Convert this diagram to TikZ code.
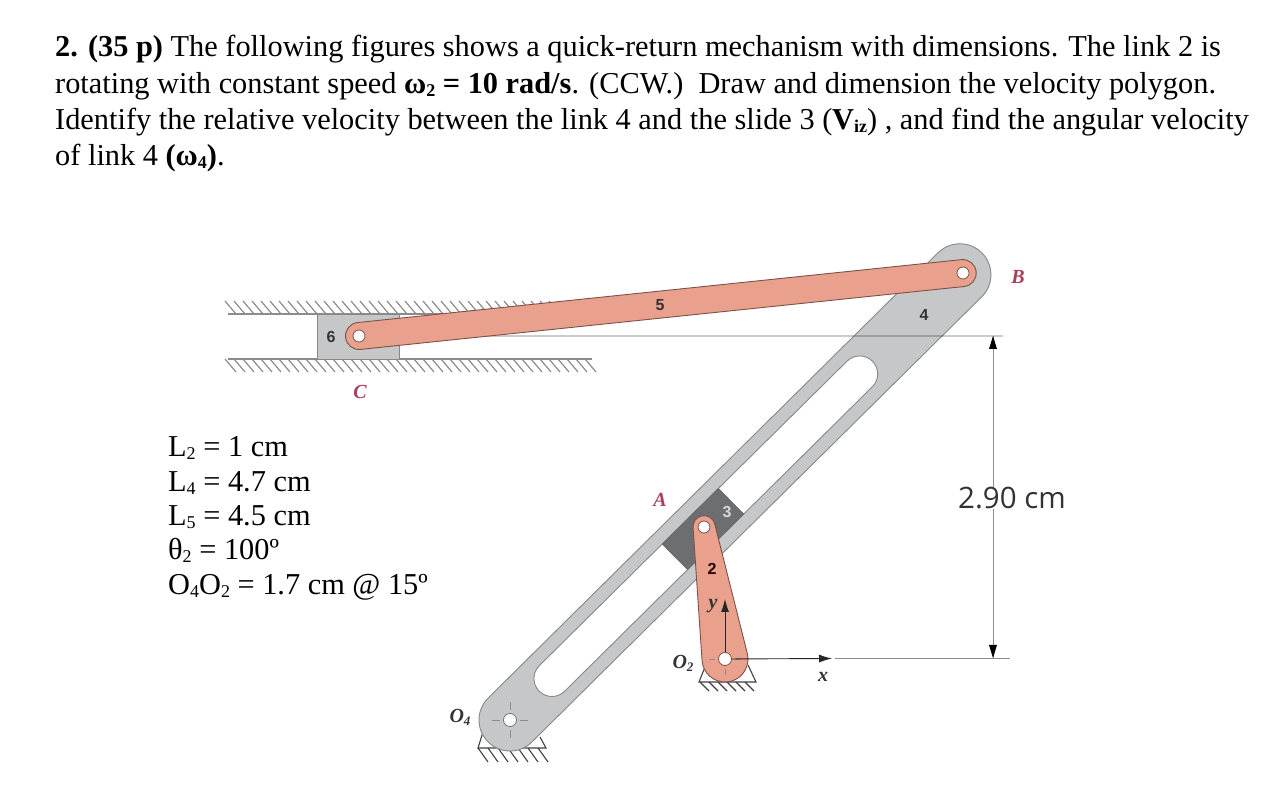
\documentclass[tikz,border=0pt]{standalone}
\usepackage{fontspec}
\setmainfont{Liberation Serif}
\setsansfont{Liberation Sans}
\newfontfamily\dimfont{Open Sans}
\usepackage{tikz}
\usetikzlibrary{positioning}
\usetikzlibrary{arrows.meta}
\definecolor{salmon}{HTML}{E9A08C}
\definecolor{edgebrown}{HTML}{7A5248}
\definecolor{linkgray}{HTML}{C5C7C9}
\definecolor{edgegray}{HTML}{85888A}
\definecolor{slidegray}{HTML}{6C6E6F}
\definecolor{labred}{HTML}{A8405A}
\newcommand{\lowsub}[2][18pt]{\raisebox{-3pt}{\fontsize{#1}{#1}\selectfont #2}}
\tikzstyle{textline} = [inner sep=0pt, text width=1215pt, align=flush left, text height=21pt, text depth=7.5pt, font=\fontsize{30.35}{31}\selectfont]
\tikzstyle{dataline} = [textline, text width=300pt]
\tikzstyle{linkfill} = [fill=linkgray, draw=edgegray, line width=0.9pt]
\tikzstyle{redfill} = [fill=salmon, draw=edgebrown, line width=0.9pt]
\tikzstyle{pin} = [circle, draw=edgebrown, fill=white, line width=0.8pt, minimum size=12pt, inner sep=0pt]
\tikzstyle{num} = [inner sep=0pt, font=\sffamily\bfseries\fontsize{16}{16}\selectfont, text=black!80]
\tikzstyle{redlab} = [inner sep=0pt, text=labred, font=\bfseries\itshape\fontsize{20}{20}\selectfont]
\tikzstyle{axlab} = [inner sep=0pt, font=\bfseries\itshape\fontsize{20}{20}\selectfont, text=black!80]
\tikzstyle{hatch} = [draw=black!45, line width=1.2pt]
\tikzstyle{ground} = [draw=black!75, line width=1.1pt]
\tikzstyle{dimline} = [draw=black!45, line width=0.9pt]
\tikzstyle{line} = [draw=black!85, line width=0.9pt, -{Latex[length=13pt,width=8pt]}]

\begin{document}
\begin{tikzpicture}[x=1pt, y=1pt]
\useasboundingbox (0,0) rectangle (1275,804);
    % text
\node [textline, anchor=north west] (ta) at (55,768.5) {\textbf{2. (35 p)} The following figures shows a quick-return mechanism with dimensions. The link 2 is};
\node [textline, below=7.5pt of ta] (tb) {rotating with constant speed \textbf{ω\lowsub{2} = 10 rad/s}. (CCW.)\ \ Draw and dimension the velocity polygon.};
\node [textline, below=7.5pt of tb] (tc) {Identify the relative velocity between the link 4 and the slide 3 (\textbf{V\lowsub{iz}}) , and find the angular velocity};
\node [textline, below=7.5pt of tc] (td) {of link 4 \textbf{(ω\lowsub{4})}.};
\node [dataline, anchor=north west] (la) at (168,368.5) {L\lowsub{2} = 1 cm};
\node [dataline, below=5.5pt of la] (lb) {L\lowsub{4} = 4.7 cm};
\node [dataline, below=5.5pt of lb] (lc) {L\lowsub{5} = 4.5 cm};
\node [dataline, below=5.5pt of lc] (ld) {θ\lowsub{2} = 100º};
\node [dataline, below=5.5pt of ld] (le) {O\lowsub{4}O\lowsub{2} = 1.7 cm @ 15º};

    % points
\coordinate (o4) at (510,84);
\coordinate (o2) at (725,145);
\coordinate (a) at (704,277);
\coordinate (b) at (963,531);
\coordinate (c) at (359,468);

    % guides
\foreach \x in {225,234,...,560} \draw [hatch] (\x,503) -- ++(11,-13);
\foreach \x in {225,234,...,585} \draw [hatch] (\x,445) -- ++(11,-13);
\draw [hatch] (228,490) -- (560,490);
\draw [hatch] (228,445) -- (592,445);
\draw [fill=linkgray, draw=edgegray, line width=0.9pt] (317,445) rectangle (399,490);

    % supports
\draw [ground] (483,72) -- (478,56) -- (546,56) -- (540,67);
\foreach \x in {478,488,...,538} \draw [ground] (\x,56) -- ++(10,-14);
\draw [ground] (705,137) -- (699,122) -- (756,122) -- (748,139);
\foreach \x in {700,709,...,745} \draw [ground] (\x,122) -- ++(9,-9);

    % link 4 and slide 3
\begin{scope}[shift={(o4)}, rotate=44.7]
\draw [linkfill, even odd rule] (0,-31) -- (633,-31) arc (-90:90:31) -- (0,31) arc (90:270:31) -- cycle
  (59,-18) -- (492,-18) arc (-90:90:18) -- (59,18) arc (90:270:18) -- cycle;
\draw [fill=slidegray, draw=black!60, line width=0.6pt] (232,-18) rectangle (311,18);
\end{scope}

    % lines
\coordinate (extc) at (1003,468);
\draw [black, opacity=0.2, line width=1.4pt] (c) -- (extc);

    % link 5
\begin{scope}[shift={(c)}, rotate=5.95]
\draw [redfill] (0,-13.5) -- (607,-13.5) arc (-90:90:13.5) -- (0,13.5) arc (90:270:13.5) -- cycle;
\end{scope}

    % link 2
\begin{scope}[shift={(o2)}, rotate=99]
\draw [redfill] (-84.9:23) -- ([shift={(134,0)}]-84.9:11) arc (-84.9:84.9:11) -- (84.9:23) arc (84.9:275.1:23) -- cycle;
\end{scope}

    % nodes on the links
\node [pin] (pc) at (c) {};
\node [pin] (pb) at (b) {};
\node [pin] (pa) at (a) {};
\node [pin, minimum size=13pt] (po2) at (o2) {};
\node [pin, draw=black!55, minimum size=13pt] (po4) at (o4) {};
\foreach \a in {0,90,180,270} {
  \draw [black!45, line width=0.8pt] (o4) ++(\a:10) -- ++(\a:8);
  \draw [black!45, line width=0.8pt] (o2) ++(\a:10) -- ++(\a:6);
}

    % axes and dimension
\coordinate (xt) at (832,145.5);
\coordinate (xs) at (835,145.5);
\coordinate (xe) at (1010,145.5);
\coordinate (yt) at (725,205);
\coordinate (dt) at (993,468);
\coordinate (db) at (993,146);
\node [inner sep=0pt, fill=white, text=black!80, font=\dimfont\fontsize{29.5}{30}\selectfont] (dim) at (1012,306) {2.90 cm};
\path [line] (po2) -- (xt);
\path [line] (po2) -- (yt);
\draw [dimline] (xs) -- (xe);
\draw [dimline] (dim.north -| dt) -- (dt);
\draw [dimline] (dim.south -| db) -- (db);
\draw [fill=black, draw=none] (dt) -- ++(-4,-13) -- ++(8,0) -- cycle;
\draw [fill=black, draw=none] (db) -- ++(-4,13) -- ++(8,0) -- cycle;

    % labels
\node [num] (n6) at (331,467) {6};
\node [num] (n5) at (660,499) {5};
\node [num] (n4) at (924,489) {4};
\node [num, text=white!85!black] (n3) at (727,292) {3};
\node [num, text=black!85!red] (n2) at (712,235) {2};
\node [redlab] (lbc) at (360,412) {C};
\node [redlab] (lbb) at (1018,527) {B};
\node [redlab] (lba) at (660,304) {A};
\node [axlab] (ly) at (713,198) {y};
\node [axlab] (lx) at (823,127) {x};
\node [axlab] (lo2) at (683,141) {O\lowsub[13pt]{2}};
\node [axlab] (lo4) at (460,87) {O\lowsub[13pt]{4}};
\end{tikzpicture}
\end{document}
